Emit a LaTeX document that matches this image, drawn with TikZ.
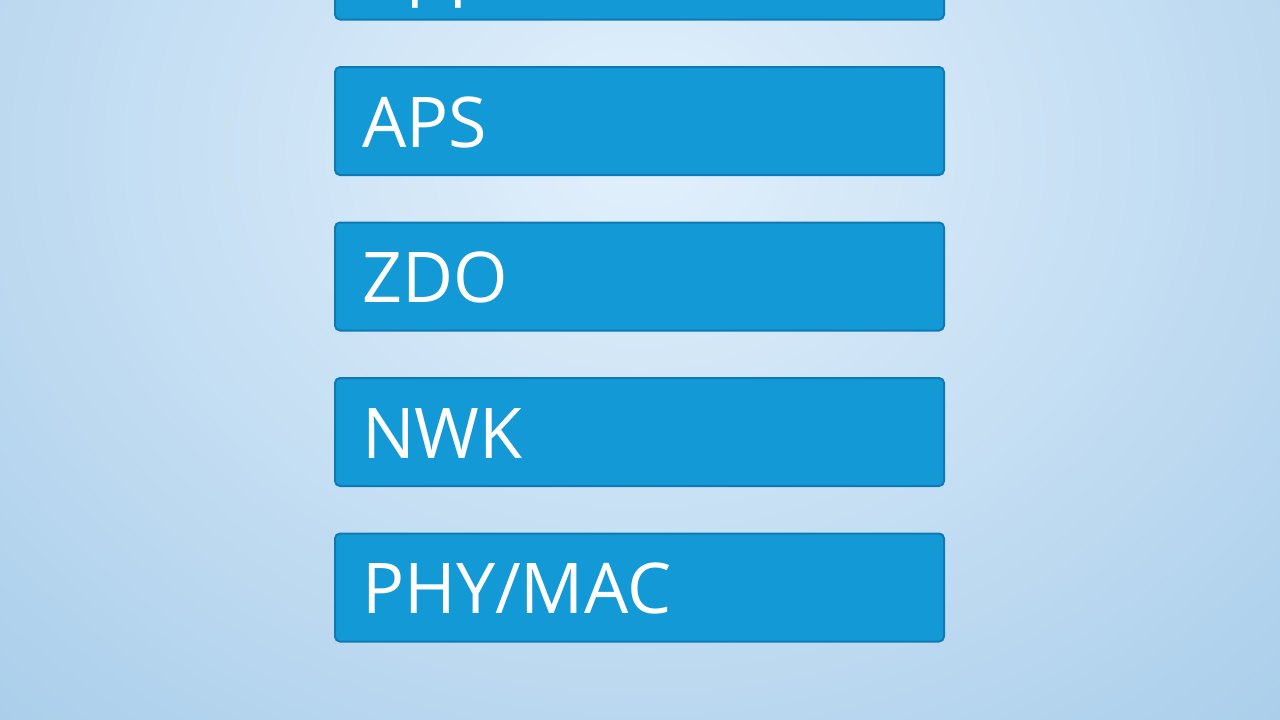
\documentclass[tikz,border=0pt]{standalone}
\usepackage{fontspec}
\setmainfont{Open Sans}
\definecolor{bgin}{HTML}{E2F0FC}
\definecolor{bgout}{HTML}{A2C9E8}
\definecolor{boxfill}{HTML}{139AD6}
\definecolor{boxline}{HTML}{0E7AB5}
\tikzset{
  layerbox/.style={draw=boxline, line width=2pt, fill=boxfill, rounded corners=5pt},
  layertext/.style={anchor=base west, inner sep=0pt, text=white, font=\fontsize{70}{80}\selectfont}
}
\begin{document}
\begin{tikzpicture}[x=1pt,y=-1pt]
\useasboundingbox (0,0) rectangle (1280,720);
\begin{scope}
\clip (0,0) rectangle (1280,720);
\shade[inner color=bgin, outer color=bgout] (-450,-750) rectangle (1730,1050);
\foreach \n/\t/\y in {app/Application/-88.5, aps/APS/67, zdo/ZDO/222.5, nwk/NWK/378, phy/PHY\slash MAC/533.5}{
  \draw[layerbox] (335,\y) rectangle (944,\y+108);
  \node[layertext] (\n) at (362,\y+80) {\t};
}
\end{scope}
\end{tikzpicture}
\end{document}
